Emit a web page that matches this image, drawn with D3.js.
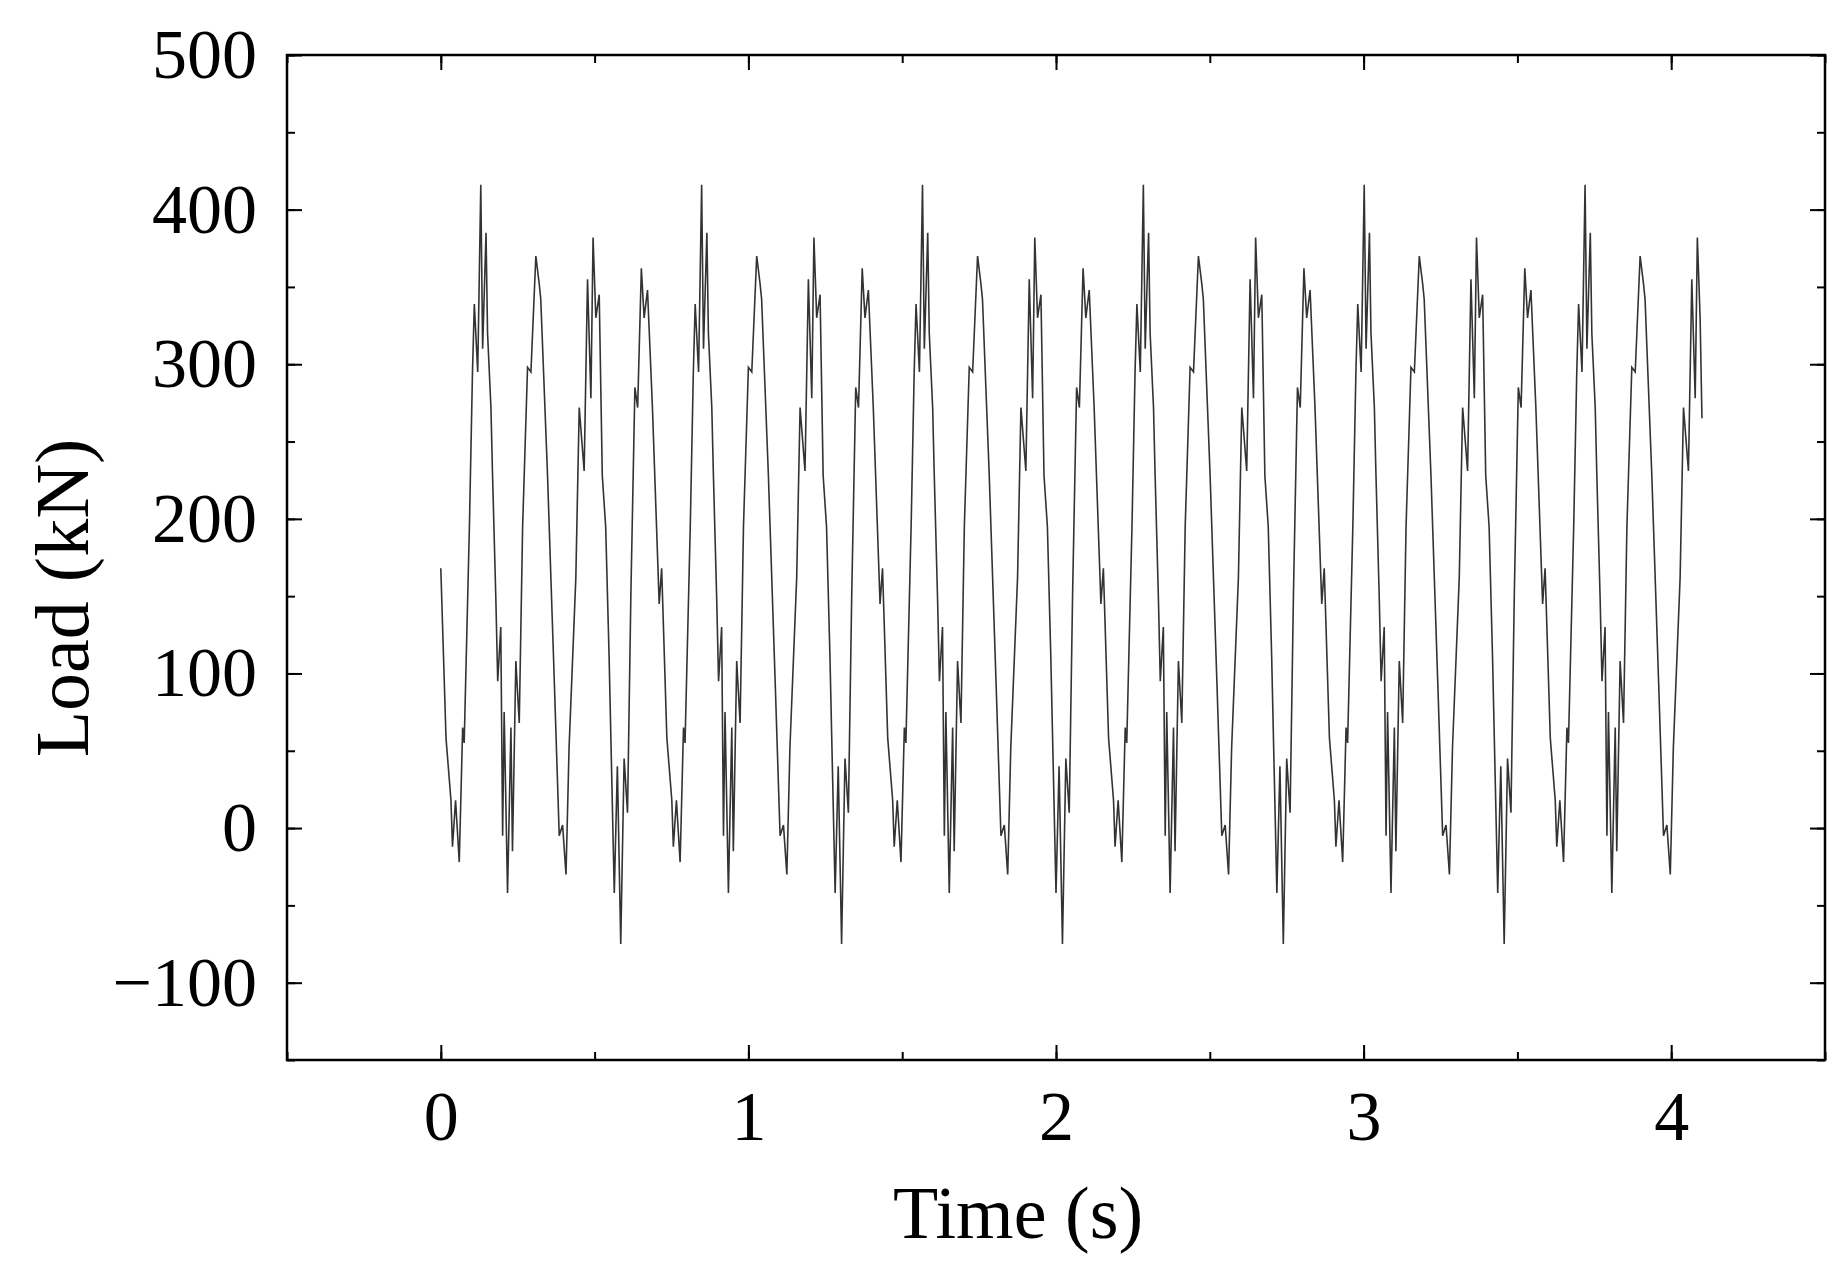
<!DOCTYPE html>
<html>
<head>
<meta charset="utf-8">
<script src="https://cdn.jsdelivr.net/npm/d3@7"></script>
<style>
  body { margin: 0; background: #fff; }
  text { font-family: "Liberation Serif", "Times New Roman", serif; fill: #000; }
</style>
</head>
<body>
<svg id="chart" width="1841" height="1283"></svg>
<script>
// one repeating block of the load signal (time s, load kN)
const blockTime = [0, 0.017, 0.033, 0.038, 0.048, 0.06, 0.071, 0.076, 0.093, 0.103, 0.109, 0.12, 0.13, 0.136,
  0.147, 0.152, 0.163, 0.168, 0.179, 0.185, 0.195, 0.201, 0.206, 0.217, 0.228, 0.233, 0.244, 0.255, 0.266,
  0.282, 0.293, 0.309, 0.32, 0.325, 0.347, 0.369, 0.385, 0.396, 0.407, 0.417, 0.439, 0.45, 0.466, 0.477,
  0.488, 0.495, 0.504, 0.515, 0.525, 0.536, 0.547, 0.564, 0.574, 0.585, 0.596, 0.607, 0.618, 0.631, 0.64,
  0.652, 0.661, 0.672, 0.688, 0.71];
const blockLoad = [168, 58, 18, -12, 18, -22, 65, 55, 195, 295, 339, 295, 416, 310,
  385, 320, 272, 230, 148, 95, 130, -5, 75, -42, 65, -15, 108, 68, 195,
  298, 295, 370, 352, 342, 228, 95, -5, 2, -30, 52, 162, 272, 231, 355,
  278, 382, 330, 345, 228, 195, 112, -42, 40, -75, 45, 10, 152, 285, 272,
  362, 330, 348, 272, 145];
const blockPeriod = 0.718;
const endTime = 4.1;
const endLoad = 265;

const xTicks = [0, 1, 2, 3, 4];
const yTicks = [-100, 0, 100, 200, 300, 400, 500];

// lay the block end to end along the time axis
const series = [];
for (let k = 0; k * blockPeriod < endTime; k++) {
  blockTime.forEach((t, i) => {
    const tt = t + k * blockPeriod;
    if (tt < endTime - 0.005) series.push({ t: tt, v: blockLoad[i] });
  });
}
series.push({ t: endTime, v: endLoad });

const svg = d3.select("#chart");
const m = { left: 287, right: 1825, top: 55, bottom: 1060 };

const x = d3.scaleLinear().domain([-0.5, 4.5]).range([m.left, m.right]);
const y = d3.scaleLinear().domain([-150, 500]).range([m.bottom, m.top]);

svg.append("path")
    .datum(series)
    .attr("fill", "none")
    .attr("stroke", "#333")
    .attr("stroke-width", 1.6)
    .attr("d", d3.line().x(d => x(d.t)).y(d => y(d.v)));

// axes with inward ticks on all four sides
const xMinor = d3.range(-0.5, 4.51, 0.5);
const yMinor = d3.range(-150, 501, 50);
const tickStyle = g => g.call(s => s.select(".domain").remove())
    .selectAll("line").attr("stroke", "#000").attr("stroke-width", 2);

svg.append("g").attr("transform", `translate(0,${m.bottom})`)
    .call(d3.axisBottom(x).tickValues(xMinor).tickSize(-8).tickFormat(""))
    .call(tickStyle);
svg.append("g").attr("transform", `translate(0,${m.bottom})`)
    .call(d3.axisBottom(x).tickValues(xTicks).tickSize(-15).tickPadding(30).tickFormat(d3.format("d")))
    .call(tickStyle)
    .selectAll("text").attr("font-size", 70);
svg.append("g").attr("transform", `translate(0,${m.top})`)
    .call(d3.axisTop(x).tickValues(xMinor).tickSize(-8).tickFormat(""))
    .call(tickStyle);
svg.append("g").attr("transform", `translate(0,${m.top})`)
    .call(d3.axisTop(x).tickValues(xTicks).tickSize(-15).tickFormat(""))
    .call(tickStyle);

svg.append("g").attr("transform", `translate(${m.left},0)`)
    .call(d3.axisLeft(y).tickValues(yMinor).tickSize(-8).tickFormat(""))
    .call(tickStyle);
svg.append("g").attr("transform", `translate(${m.left},0)`)
    .call(d3.axisLeft(y).tickValues(yTicks).tickSize(-15).tickPadding(30)
      .tickFormat(d => d < 0 ? "\u2212" + Math.abs(d) : d))
    .call(tickStyle)
    .selectAll("text").attr("font-size", 70);
svg.append("g").attr("transform", `translate(${m.right},0)`)
    .call(d3.axisRight(y).tickValues(yMinor).tickSize(-8).tickFormat(""))
    .call(tickStyle);
svg.append("g").attr("transform", `translate(${m.right},0)`)
    .call(d3.axisRight(y).tickValues(yTicks).tickSize(-15).tickFormat(""))
    .call(tickStyle);

svg.append("rect")
    .attr("x", m.left).attr("y", m.top)
    .attr("width", m.right - m.left).attr("height", m.bottom - m.top)
    .attr("fill", "none").attr("stroke", "#000").attr("stroke-width", 2.5);

svg.append("text")
    .attr("x", 1018).attr("y", 1238)
    .attr("text-anchor", "middle").attr("font-size", 74)
    .text("Time (s)");
svg.append("text")
    .attr("transform", "translate(88,598) rotate(-90)")
    .attr("text-anchor", "middle").attr("font-size", 76)
    .text("Load (kN)");
</script>
</body>
</html>
